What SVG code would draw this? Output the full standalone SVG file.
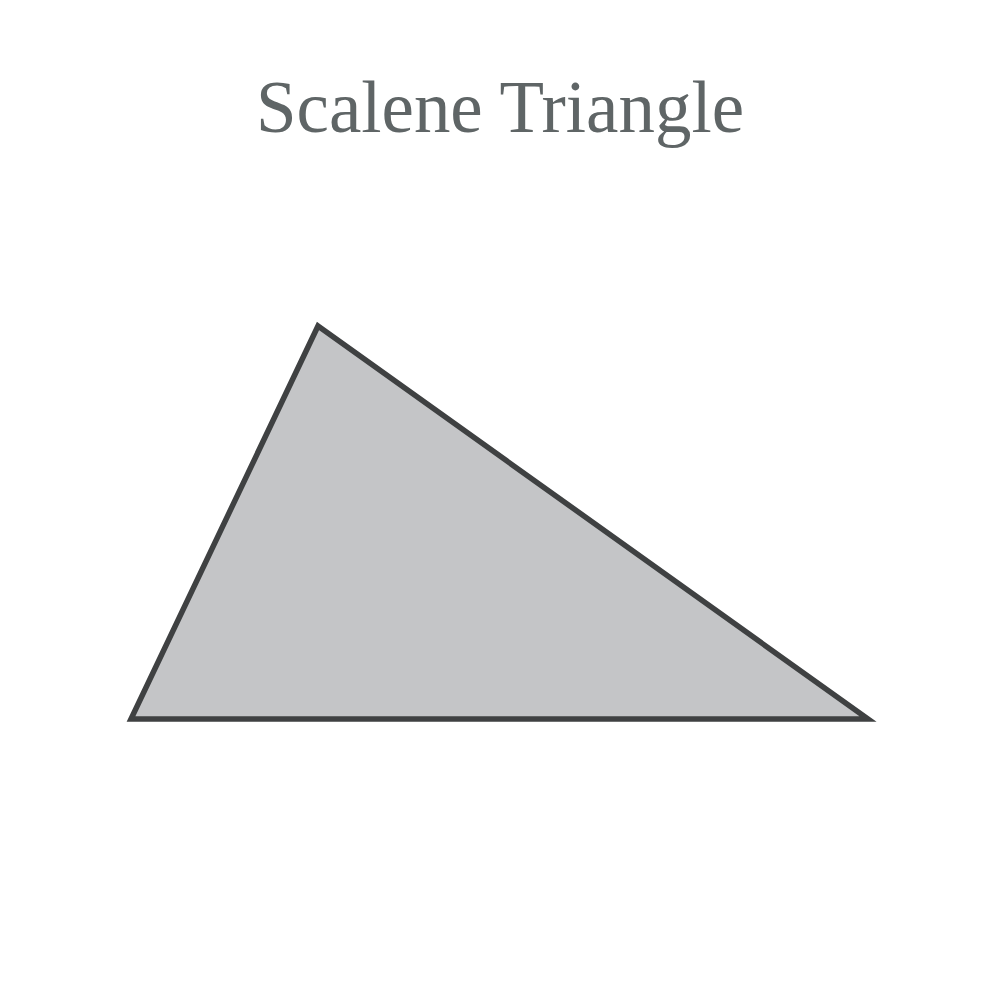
<svg xmlns="http://www.w3.org/2000/svg" width="1000" height="1000" viewBox="0 0 1000 1000">
<style>
.title{font-family:"Liberation Serif","DejaVu Serif",serif;font-size:73px;fill:#5f6566}
.tri{fill:#c4c5c7;stroke:#3f4142;stroke-width:5.5;stroke-linejoin:miter}
</style>
<rect width="1000" height="1000" fill="#ffffff"/>
<g id="title"><text class="title" x="500" y="132" text-anchor="middle" textLength="488" lengthAdjust="spacingAndGlyphs">Scalene Triangle</text></g>
<g id="triangle"><polygon class="tri" points="318,326 868,719 131,719"/></g>
</svg>
